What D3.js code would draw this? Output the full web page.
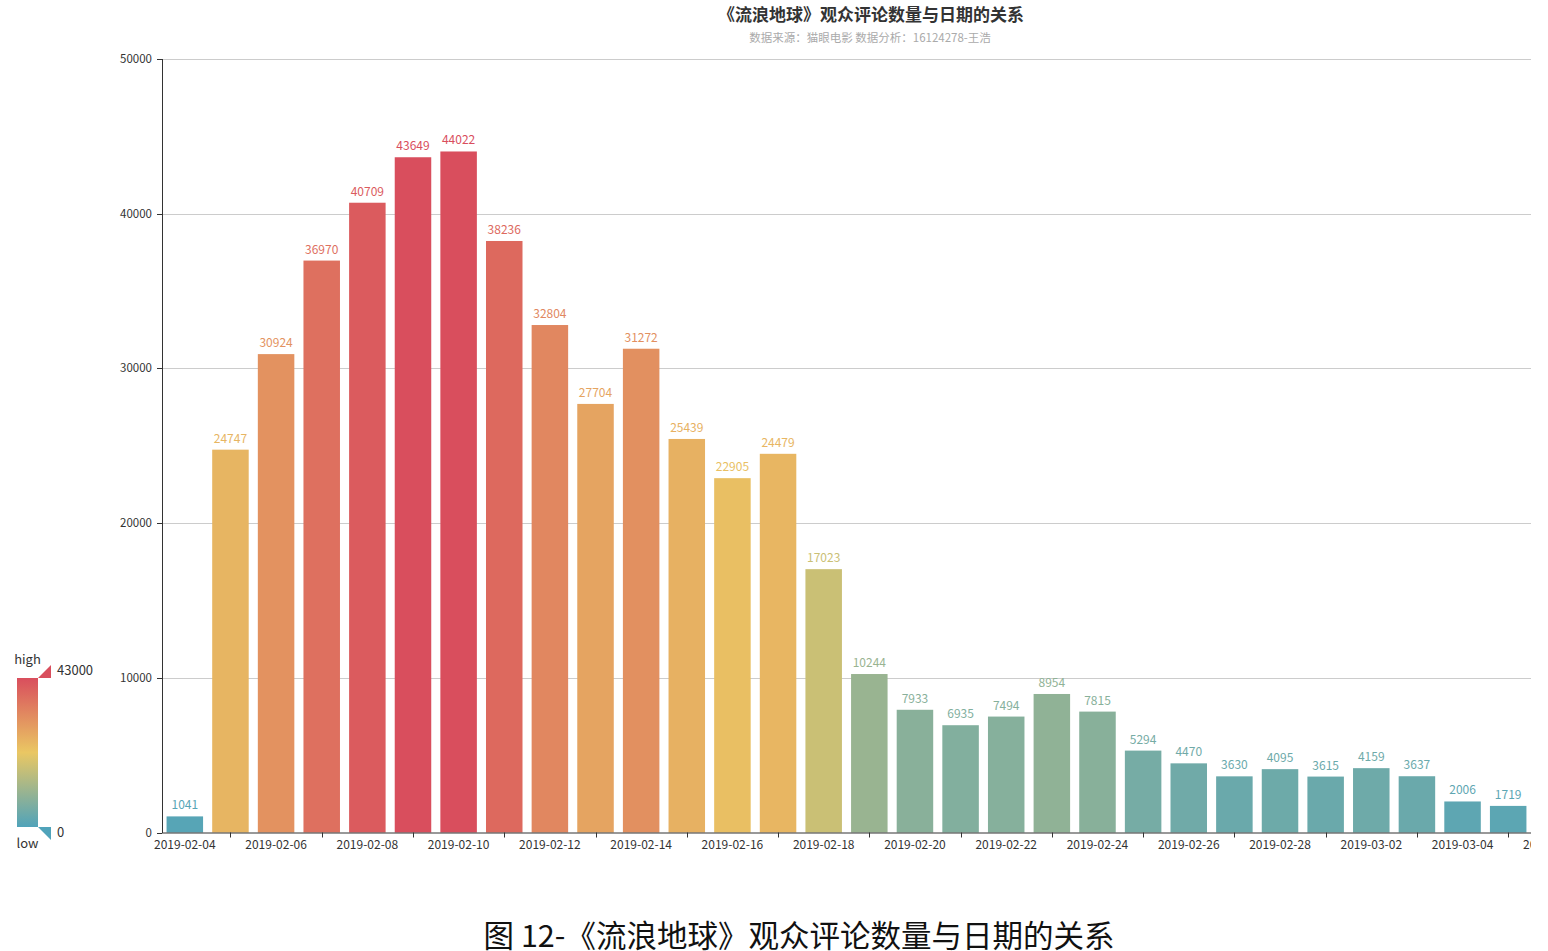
<!DOCTYPE html>
<html><head><meta charset="utf-8">
<script src="https://cdn.jsdelivr.net/npm/d3@7/dist/d3.min.js"></script>
<style>
html,body{margin:0;padding:0;background:#fff;}
svg{display:block;font-family:"Noto Sans CJK SC","Noto Sans",sans-serif;}
</style></head>
<body>
<svg id="c" width="1548" height="951"></svg>
<script>
const dates = ["2019-02-04","2019-02-05","2019-02-06","2019-02-07","2019-02-08","2019-02-09","2019-02-10","2019-02-11","2019-02-12","2019-02-13","2019-02-14","2019-02-15","2019-02-16","2019-02-17","2019-02-18","2019-02-19","2019-02-20","2019-02-21","2019-02-22","2019-02-23","2019-02-24","2019-02-25","2019-02-26","2019-02-27","2019-02-28","2019-03-01","2019-03-02","2019-03-03","2019-03-04","2019-03-05","2019-03-06"];
const counts = [1041,24747,30924,36970,40709,43649,44022,38236,32804,27704,31272,25439,22905,24479,17023,10244,7933,6935,7494,8954,7815,5294,4470,3630,4095,3615,4159,3637,2006,1719];
const yTicks = [0,10000,20000,30000,40000,50000];
const visualRange = [0,43000];
const rangeColors = ["#50a3ba","#eac763","#d94e5d"];
const titleText = "《流浪地球》观众评论数量与日期的关系";
const subText = "数据来源：猫眼电影 数据分析：16124278-王浩";
const captionText = "图 12-《流浪地球》观众评论数量与日期的关系";

const svg = d3.select("#c");
const gLeft = 162, clipRight = 1531, gTop = 59, gBottom = 832.5;
const step = (clipRight - gLeft) / counts.length;
const x = d3.scaleBand().domain(dates).range([gLeft, gLeft + step * dates.length]).paddingInner(0.2).paddingOuter(0.1);
const y = d3.scaleLinear().domain([0,50000]).range([gBottom, gTop]);
const color = d3.scaleLinear().domain([visualRange[0], (visualRange[0]+visualRange[1])/2, visualRange[1]]).range(rangeColors).interpolate(d3.interpolateRgb).clamp(true);

const defs = svg.append("defs");
defs.append("clipPath").attr("id","clip").append("rect").attr("x",0).attr("y",0).attr("width",clipRight).attr("height",900);

const g = svg.append("g").attr("clip-path","url(#clip)");

// grid
g.append("g").selectAll("line").data(yTicks.filter(d=>d>0)).join("line")
  .attr("x1",gLeft).attr("x2",gLeft + step*dates.length)
  .attr("y1",d=>Math.round(y(d))+0.5).attr("y2",d=>Math.round(y(d))+0.5)
  .attr("stroke","#ccc").attr("stroke-width",1);

// bars
const data = counts.map((v,i)=>({d:dates[i],v}));
g.append("g").selectAll("rect").data(data).join("rect")
  .attr("x",d=>x(d.d)).attr("width",x.bandwidth())
  .attr("y",d=>y(d.v)).attr("height",d=>y(0)-y(d.v))
  .attr("fill",d=>color(d.v));

g.append("g").selectAll("text").data(data).join("text")
  .attr("x",d=>x(d.d)+x.bandwidth()/2).attr("y",d=>y(d.v)-7)
  .attr("text-anchor","middle").attr("font-size",12)
  .attr("fill",d=>color(d.v)).text(d=>d.v);

// x axis
const xa = g.append("g");
xa.append("line").attr("x1",gLeft).attr("x2",gLeft+step*dates.length).attr("y1",gBottom+0.5).attr("y2",gBottom+0.5).attr("stroke","#333");
const oddDates = dates.filter((d,i)=>i%2===1);
const evenDates = dates.filter((d,i)=>i%2===0);
xa.selectAll("line.tk").data(oddDates).join("line").attr("class","tk")
  .attr("x1",d=>Math.round(x(d)+x.bandwidth()/2)+0.5).attr("x2",d=>Math.round(x(d)+x.bandwidth()/2)+0.5)
  .attr("y1",gBottom).attr("y2",gBottom+5).attr("stroke","#333");
xa.selectAll("text").data(evenDates).join("text")
  .attr("x",d=>x(d)+x.bandwidth()/2).attr("y",gBottom+16)
  .attr("text-anchor","middle").attr("font-size",12).attr("fill","#333").text(d=>d);

// y axis
const ya = svg.append("g");
ya.append("line").attr("x1",gLeft+0.5).attr("x2",gLeft+0.5).attr("y1",gTop).attr("y2",gBottom+0.5).attr("stroke","#333");
ya.selectAll("line.tk").data(yTicks).join("line").attr("class","tk")
  .attr("x1",gLeft-5).attr("x2",gLeft).attr("y1",d=>Math.round(y(d))+0.5).attr("y2",d=>Math.round(y(d))+0.5).attr("stroke","#333");
ya.selectAll("text").data(yTicks).join("text")
  .attr("x",gLeft-10).attr("y",d=>y(d)+4).attr("text-anchor","end")
  .attr("font-size",11.5).attr("fill","#333").text(d=>d);

// titles
svg.append("text").attr("x",871).attr("y",21).attr("text-anchor","middle")
  .attr("font-size",17).attr("font-weight","bold").attr("fill","#333").text(titleText);
svg.append("text").attr("x",870).attr("y",42).attr("text-anchor","middle")
  .attr("font-size",11.5).attr("fill","#aaa").text(subText);

// visual map
const vm = svg.append("g");
const grad = defs.append("linearGradient").attr("id","vmg").attr("x1",0).attr("y1",1).attr("x2",0).attr("y2",0);
rangeColors.forEach((c,i)=>grad.append("stop").attr("offset",i/(rangeColors.length-1)).attr("stop-color",c));
const vmTop = 678, vmBot = 827;
vm.append("rect").attr("x",17).attr("y",vmTop).attr("width",21).attr("height",vmBot-vmTop).attr("fill","url(#vmg)");
vm.append("path").attr("d",`M38,${vmTop}L51,${vmTop}L51,${vmTop-13}Z`).attr("fill",color(visualRange[1]));
vm.append("path").attr("d",`M38,${vmBot}L51,${vmBot}L51,${vmBot+13}Z`).attr("fill",color(visualRange[0]));
vm.append("text").attr("x",57).attr("y",vmTop-3).attr("font-size",13).attr("fill","#333").text(visualRange[1]);
vm.append("text").attr("x",57).attr("y",vmBot+10).attr("font-size",13).attr("fill","#333").text(visualRange[0]);
vm.append("text").attr("x",27.5).attr("y",664).attr("text-anchor","middle").attr("font-size",13).attr("fill","#333").text("high");
vm.append("text").attr("x",27.5).attr("y",848).attr("text-anchor","middle").attr("font-size",13).attr("fill","#333").text("low");

// caption
svg.append("text").attr("x",799).attr("y",947).attr("text-anchor","middle")
  .attr("font-size",30.5).attr("fill","#111").text(captionText);
</script>
</body></html>
